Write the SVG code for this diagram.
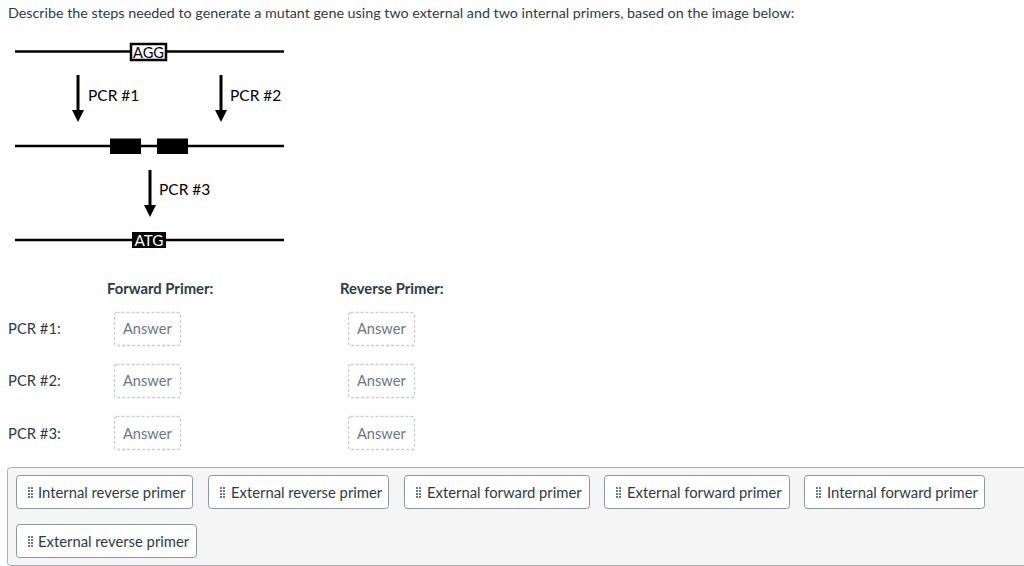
<svg xmlns="http://www.w3.org/2000/svg" width="1024" height="566" viewBox="0 0 1024 566">
<style>
.t{font-family:Lato,"Noto Sans",sans-serif;font-size:14.8px;fill:#2d3b45}
.h{font-size:14.3px}
.b{font-weight:bold}
.d{font-family:Lato,"Liberation Sans",sans-serif;font-size:15.5px;fill:#000}
.ans{fill:#fff;stroke:#c7cdd1;stroke-width:1.3;stroke-dasharray:3 2}
.at{font-family:Lato,sans-serif;font-size:14.6px;fill:#6b7780}
.chip{fill:#fff;stroke:#8b969e;stroke-width:1}
.dna{stroke:#000;stroke-width:2.5}
.dot{fill:#2d3b45}
</style>
<defs>
<g id="handle">
<circle cx="0" cy="0" r="0.9" class="dot"/><circle cx="3" cy="0" r="0.9" class="dot"/>
<circle cx="0" cy="3" r="0.9" class="dot"/><circle cx="3" cy="3" r="0.9" class="dot"/>
<circle cx="0" cy="6" r="0.9" class="dot"/><circle cx="3" cy="6" r="0.9" class="dot"/>
<circle cx="0" cy="9" r="0.9" class="dot"/><circle cx="3" cy="9" r="0.9" class="dot"/>
</g>
</defs>
<rect width="1024" height="566" fill="#fff"/>
<text class="t h" x="8" y="18">Describe the steps needed to generate a mutant gene using two external and two internal primers, based on the image below:</text>

<g id="dna1">
<line class="dna" x1="15" y1="51.5" x2="284" y2="51.5"/>
<rect x="131" y="44" width="35" height="16" fill="#fff" stroke="#000" stroke-width="2.5"/>
<text class="d" x="148.5" y="57.5" text-anchor="middle" font-size="13.5" textLength="31" lengthAdjust="spacingAndGlyphs">AGG</text>
</g>
<g id="dna2">
<line class="dna" x1="15" y1="146" x2="284" y2="146"/>
<rect x="110" y="138.5" width="31" height="15.5" fill="#000"/>
<rect x="157" y="138.5" width="31" height="15.5" fill="#000"/>
</g>
<g id="dna3">
<line class="dna" x1="15" y1="240" x2="284" y2="240"/>
<rect x="132" y="232" width="34" height="16" fill="#000"/>
<text class="d" x="149" y="246" text-anchor="middle" font-size="13.5" style="fill:#fff" textLength="29" lengthAdjust="spacingAndGlyphs">ATG</text>
</g>

<g id="connectors">
<line x1="78" y1="75" x2="78" y2="112" stroke="#000" stroke-width="3"/>
<path d="M72,110 L84,110 L78,122 Z" fill="#000"/>
<line x1="221" y1="75" x2="221" y2="112" stroke="#000" stroke-width="3"/>
<path d="M215,110 L227,110 L221,122 Z" fill="#000"/>
<line x1="150" y1="170" x2="150" y2="207" stroke="#000" stroke-width="3"/>
<path d="M144,205 L156,205 L150,217 Z" fill="#000"/>
</g>
<g id="labels">
<text class="d" x="88" y="101">PCR #1</text>
<text class="d" x="230" y="101">PCR #2</text>
<text class="d" x="159" y="195">PCR #3</text>
</g>

<g id="form">
<text class="t b" x="107" y="294">Forward Primer:</text>
<text class="t b" x="340" y="294">Reverse Primer:</text>
<text class="t" x="8" y="334">PCR #1:</text>
<text class="t" x="8" y="386">PCR #2:</text>
<text class="t" x="8" y="439">PCR #3:</text>
<rect class="ans" x="114.5" y="312.5" width="66" height="33" rx="2"/>
<text class="at" x="123" y="334">Answer</text>
<rect class="ans" x="348.5" y="312.5" width="66" height="33" rx="2"/>
<text class="at" x="357" y="334">Answer</text>
<rect class="ans" x="114.5" y="364.5" width="66" height="33" rx="2"/>
<text class="at" x="123" y="386">Answer</text>
<rect class="ans" x="348.5" y="364.5" width="66" height="33" rx="2"/>
<text class="at" x="357" y="386">Answer</text>
<rect class="ans" x="114.5" y="416.5" width="66" height="33" rx="2"/>
<text class="at" x="123" y="439">Answer</text>
<rect class="ans" x="348.5" y="416.5" width="66" height="33" rx="2"/>
<text class="at" x="357" y="439">Answer</text>
</g>

<g id="bank">
<rect x="7.5" y="467.5" width="1030" height="98" rx="3" fill="#f5f5f5" stroke="#a5afb5"/>
<g id="chip1">
<rect class="chip" x="16.5" y="475.5" width="176" height="33" rx="3"/>
<use href="#handle" x="29" y="488"/>
<text class="t" x="38" y="497.5">Internal reverse primer</text>
</g>
<g id="chip2">
<rect class="chip" x="208.5" y="475.5" width="180" height="33" rx="3"/>
<use href="#handle" x="221" y="488"/>
<text class="t" x="231" y="497.5">External reverse primer</text>
</g>
<g id="chip3">
<rect class="chip" x="404.5" y="475.5" width="185" height="33" rx="3"/>
<use href="#handle" x="417" y="488"/>
<text class="t" x="427" y="497.5">External forward primer</text>
</g>
<g id="chip4">
<rect class="chip" x="604.5" y="475.5" width="185" height="33" rx="3"/>
<use href="#handle" x="617" y="488"/>
<text class="t" x="627" y="497.5">External forward primer</text>
</g>
<g id="chip5">
<rect class="chip" x="804.5" y="475.5" width="180" height="33" rx="3"/>
<use href="#handle" x="817" y="488"/>
<text class="t" x="827" y="497.5">Internal forward primer</text>
</g>
<g id="chip6">
<rect class="chip" x="16.5" y="524.5" width="180" height="33" rx="3"/>
<use href="#handle" x="29" y="537"/>
<text class="t" x="38" y="546.5">External reverse primer</text>
</g>
</g>
</svg>
